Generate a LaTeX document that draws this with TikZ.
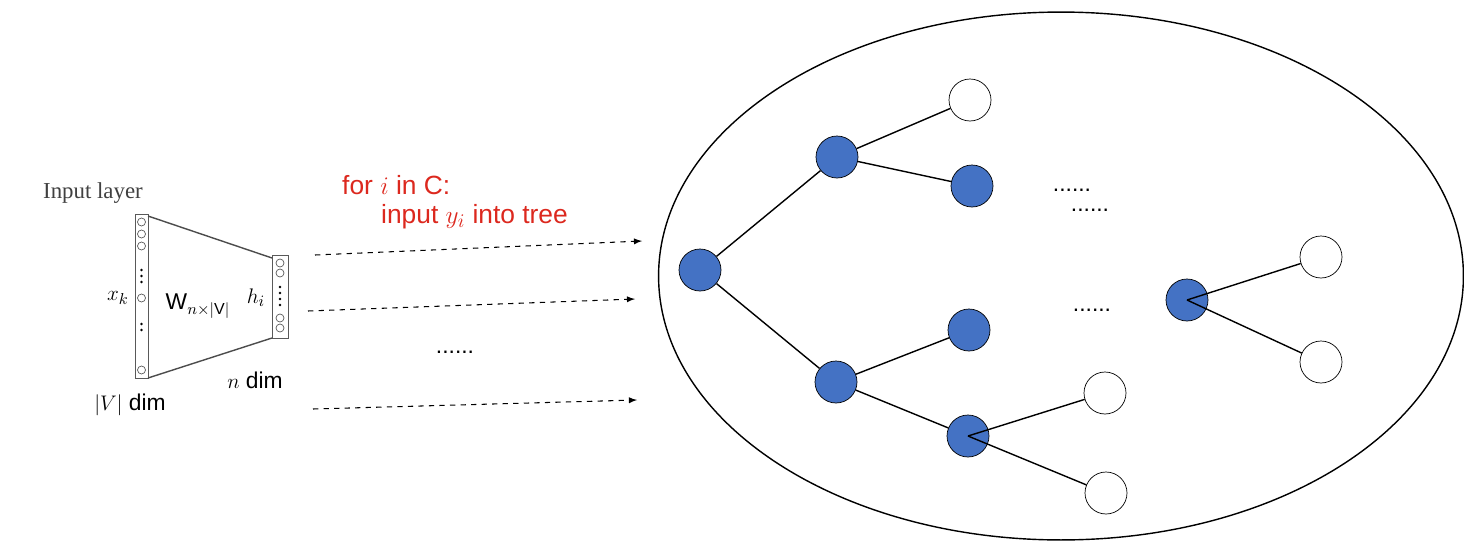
\documentclass[tikz,border=0pt]{standalone}
\usetikzlibrary{shapes.geometric}
\usepackage{fontspec}
\setmainfont{Liberation Sans}
\newfontfamily\tms{Liberation Serif}
\begin{document}
\begin{tikzpicture}[x=0.02cm,y=-0.02cm,
 bn/.style={circle,draw,fill={rgb,255:red,68;green,114;blue,196},minimum size=0.84cm,inner sep=0pt},
 wn/.style={circle,draw,fill=white,minimum size=0.84cm,inner sep=0pt},
 edge/.style={black,line width=0.8pt},
 darr/.style={dashed,-latex,line width=0.6pt},
 lbl/.style={font=\fontsize{13}{15}\selectfont},
 rtxt/.style={text={rgb,255:red,220;green,40;blue,30},font=\fontsize{15}{18}\selectfont,anchor=west}]
\useasboundingbox (0,0) rectangle (1464,558);
% left network sketch
\node[anchor=west,font=\tms\fontsize{13}{15}\selectfont,text=black!75] (il) at (37,193) {Input layer};
\draw[gray!70!black] (135,214) rectangle (148,378);
\draw[gray!70!black] (272,255) rectangle (288,338);
\draw[gray!60!black,line width=0.8pt] (148,216) -- (272,258);
\draw[gray!60!black,line width=0.8pt] (148,378) -- (272,338);
\foreach \yy in {222,234,246,298,370} \draw[gray!70!black] (141.5,\yy) circle (4);
\foreach \yy in {270,276,282,324,330} \fill[black] (141.5,\yy) circle (1.3);
\foreach \yy in {263,273,318,328} \draw[gray!70!black] (280,\yy) circle (4);
\foreach \yy in {287,293,299,305} \fill[black] (280,\yy) circle (1.3);
\node[font=\tms\bfseries\itshape\fontsize{13}{15}\selectfont] (xk) at (118,298) {$x_k$};
\node[lbl] (w) at (198,306) {W$_{n\times|\mathrm{V}|}$};
\node[font=\tms\bfseries\itshape\fontsize{13}{15}\selectfont] (hi) at (256,298) {$h_i$};
\node[lbl] (nd) at (255,380) {$n$ dim};
\node[lbl] (vd) at (130,405) {$|V|$ dim};
% arrows
\coordinate (s1) at (315,255); \coordinate (e1) at (642,241);
\coordinate (s2) at (308,311); \coordinate (e2) at (635,299);
\coordinate (s3) at (313,409); \coordinate (e3) at (637,400);
\draw[darr] (s1) -- (e1);
\draw[darr] (s2) -- (e2);
\draw[darr] (s3) -- (e3);
\node[lbl] (d0) at (455,352) {......};
\node[rtxt] (r1) at (336,185) {for $i$ in C:};
\node[rtxt] (r2) at (375,217) {input $y_i$ into tree};
% tree
\node[draw,ellipse,minimum width=16.1cm,minimum height=10.56cm,line width=0.8pt] (ell) at (1061,276) {};
\node[bn] (A) at (700,270) {};
\node[bn] (B) at (837,157) {};
\node[bn] (C) at (972,186) {};
\node[bn] (D) at (836,382) {};
\node[bn] (E) at (969,330) {};
\node[wn] (H) at (970,100) {};
\node[wn] (I) at (1105,393) {};
\node[wn] (J) at (1106,493) {};
\node[wn] (K) at (1321,257) {};
\node[wn] (L) at (1321,362) {};
\node[bn] (F) at (968,436) {};
\node[bn] (G) at (1187,300) {};
\draw[edge] (A)--(B) (A)--(D) (B)--(H) (B)--(C) (D)--(E) (D)--(F) (F.center)--(I) (F.center)--(J) (G.center)--(K) (G.center)--(L);
\node[lbl] (d1) at (1072,190) {......};
\node[lbl] (d2) at (1090,210) {......};
\node[lbl] (d3) at (1092,310) {......};
\end{tikzpicture}
\end{document}
